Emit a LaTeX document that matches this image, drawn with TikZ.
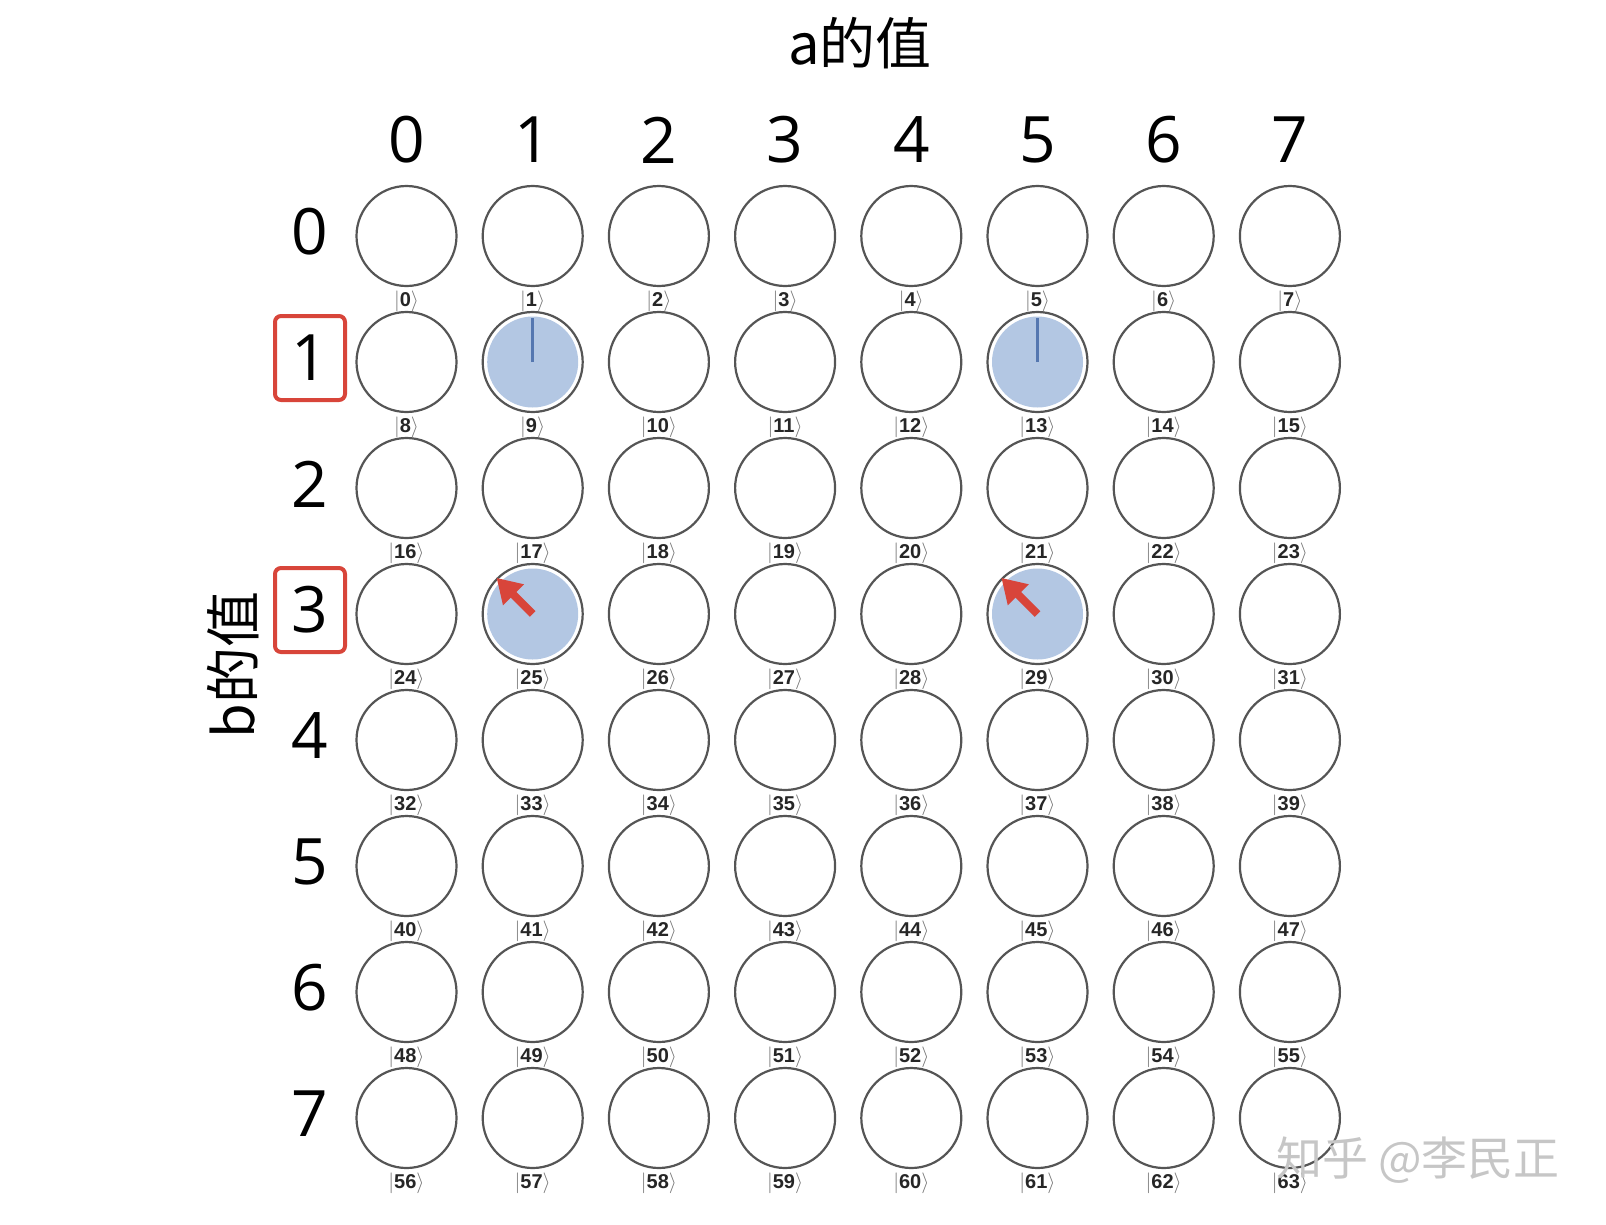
\documentclass[tikz,border=0pt]{standalone}
\usepackage{fontspec}
\setmainfont{Open Sans}
\newfontfamily\cjk{Noto Sans CJK SC}
\newfontfamily\ketfont{Liberation Sans}
\usetikzlibrary{arrows.meta}

\definecolor{ringgray}{HTML}{555555}
\definecolor{ampblue}{HTML}{B3C7E3}
\definecolor{phaseblue}{HTML}{5577B0}
\definecolor{markred}{HTML}{D8453A}

\tikzset{
  state/.style={circle, draw=ringgray, line width=2.2pt, minimum size=100pt, inner sep=0pt},
  amp/.style={state, path picture={\fill[ampblue] (path picture bounding box.center) circle (45.5pt);}},
  ket/.style={font=\ketfont\fontsize{20}{20}\selectfont, text=black!85, inner sep=0pt},
  digit/.style={font=\fontsize{64}{64}\selectfont, inner sep=0pt},
  bare/.style={digit},
  boxed/.style={digit, draw=markred, line width=4pt, rounded corners=6pt, minimum width=70pt, minimum height=84pt},
  title/.style={font=\cjk\fontsize{56}{56}\selectfont, inner sep=0pt},
  phase/.style={draw=phaseblue, line width=3pt},
  pointer/.style={draw=markred, line width=8pt, -{Triangle[width=28pt,length=24pt]}},
}

\begin{document}
\begin{tikzpicture}[x=1pt, y=-1pt]
      \useasboundingbox (0,0) rectangle (1606,1224);

      % titles
      \node[title] (atitle) at (860,43) {a的值};
      \node[title, rotate=90] (btitle) at (233,665) {b的值};

      % values of a and b
      \foreach \i in {0,...,7}
        \node[digit] (a\i) at ({406.5+126.2*\i},140) {\i};
      \foreach \j/\st in {0/bare,1/boxed,2/bare,3/boxed,4/bare,5/bare,6/bare,7/bare}
        \node[\st] (b\j) at (310,{232+126*\j}) {\j};

      % states |8b+a>
      \foreach \j in {0,...,7}
        \foreach \i in {0,...,7}{
          \pgfmathtruncatemacro\n{8*\j+\i}
          \pgfmathtruncatemacro\hit{and(or(\i==1,\i==5),or(\j==1,\j==3))}
          \ifnum\hit=1 \def\st{amp}\else\def\st{state}\fi
          \node[\st] (s\n) at ({406.5+126.2*\i},{236+126*\j}) {};
          \node[ket] (k\n) at ({406.5+126.2*\i},{301+126*\j}) {\textcolor{black!55}{$|$}\textbf{\n}\textcolor{black!55}{$\rangle$}};
        }

      \draw[phase] (s9.center) -- ([yshift=-7pt]s9.north);
      \draw[phase] (s13.center) -- ([yshift=-7pt]s13.north);
      \draw[pointer] (s25.center) -- (s25.135);
      \draw[pointer] (s29.center) -- (s29.135);

      \node[font=\cjk\fontsize{46}{46}\selectfont, text=gray!45] (wm) at (1418,1160) {知乎 @李民正};
\end{tikzpicture}
\end{document}
